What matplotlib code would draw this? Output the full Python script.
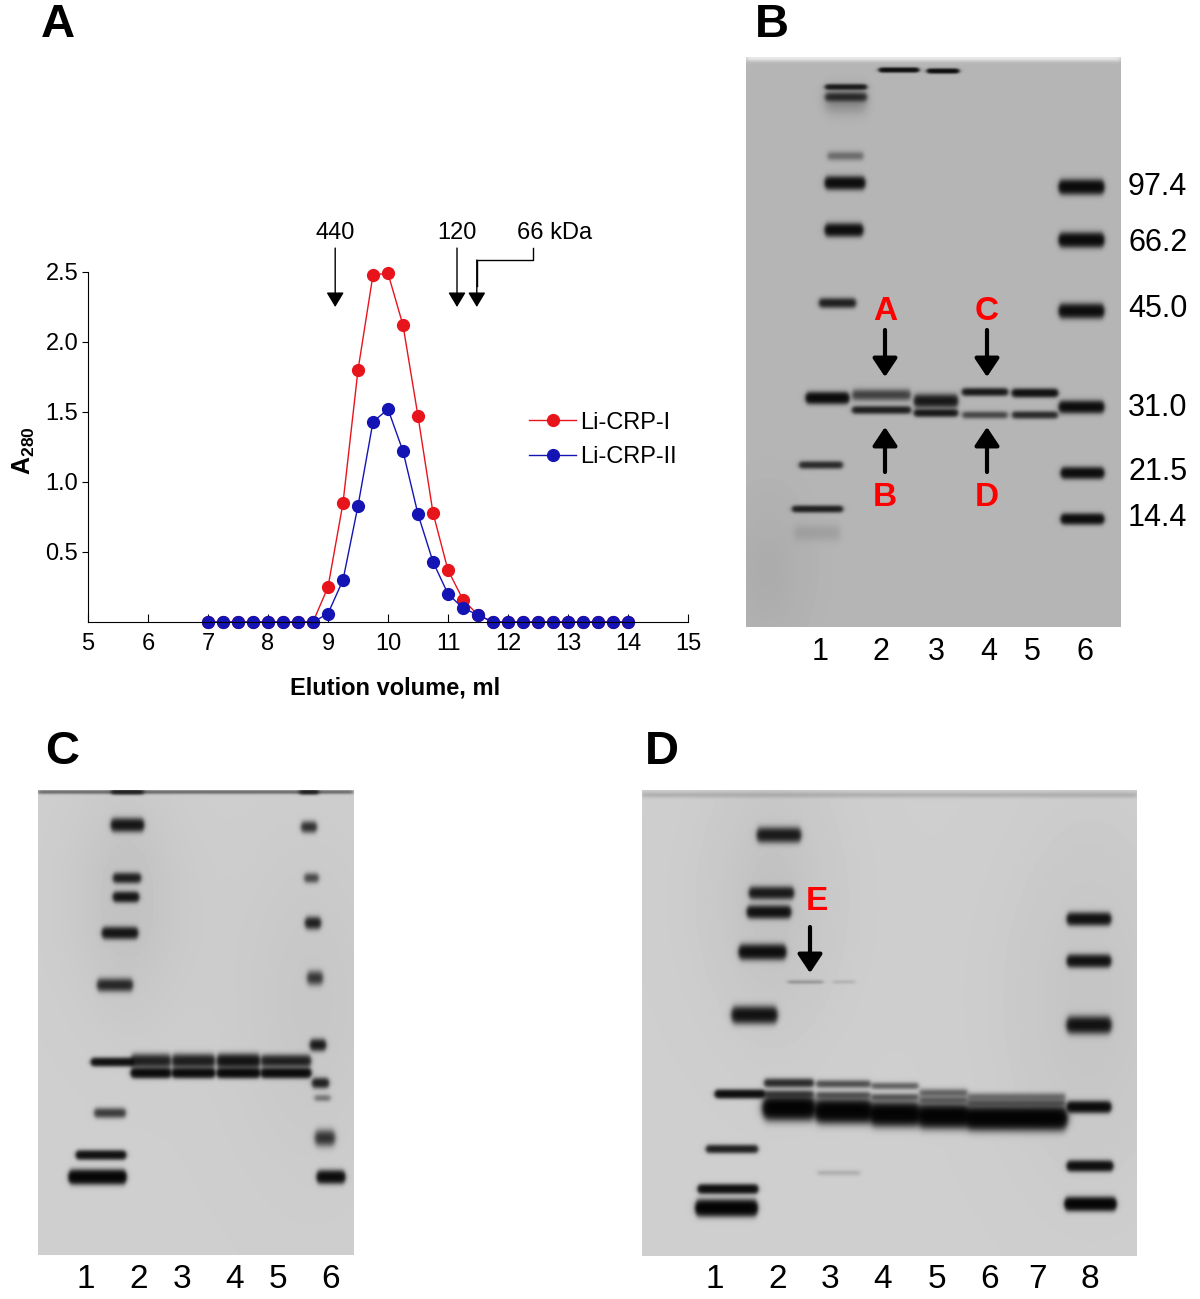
import numpy as np
import matplotlib.pyplot as plt

plt.rcParams['font.family'] = ['Liberation Sans', 'DejaVu Sans']
plt.rcParams['mathtext.fontset'] = 'custom'
plt.rcParams['mathtext.rm'] = 'Liberation Sans'
plt.rcParams['mathtext.bf'] = 'Liberation Sans:bold'

W, H = 1200, 1299

# ── panel A: gel filtration profile ──────────────────────────────────────────
elution_ml = [7.0, 7.25, 7.5, 7.75, 8.0, 8.25, 8.5, 8.75,
              9.0, 9.25, 9.5, 9.75, 10.0, 10.25, 10.5, 10.75, 11.0, 11.25, 11.5,
              11.75, 12.0, 12.25, 12.5, 12.75, 13.0, 13.25, 13.5, 13.75, 14.0]
li_crp_1 = [0, 0, 0, 0, 0, 0, 0, 0,
            0.25, 0.85, 1.80, 2.48, 2.49, 2.12, 1.47, 0.78, 0.37, 0.16, 0.05,
            0, 0, 0, 0, 0, 0, 0, 0, 0, 0]
li_crp_2 = [0, 0, 0, 0, 0, 0, 0, 0,
            0.06, 0.30, 0.83, 1.43, 1.52, 1.22, 0.77, 0.43, 0.20, 0.10, 0.05,
            0, 0, 0, 0, 0, 0, 0, 0, 0, 0]
standard_labels = ["440", "120", "66 kDa"]
standard_ml = [9.12, 11.15, 11.48]

# ── gel bands: (left, right, y, thickness, strength) in picture pixels ────────
gel_b_bands = [
    (746, 1121, 58, 2.5, -0.25),
    (746, 790, 570, 50, 0.08),
    (880, 918, 70, 1.5, 2.5), (928, 958, 71, 1.5, 2.5),
    (826, 866, 100, 9, 0.30), (826, 866, 87, 1.8, 1.8), (826, 866, 97, 2.8, 1.2),
    (828, 863, 156, 3.0, 0.5), (826, 864, 183, 3.8, 2.6), (826, 862, 230, 3.8, 2.6),
    (820, 855, 303, 3.0, 1.7),
    (807, 848, 398, 3.4, 2.8), (800, 842, 465, 2.4, 1.4), (793, 842, 509, 2.2, 1.7),
    (795, 840, 533, 6, 0.12),
    (853, 910, 395, 3.6, 1.0), (853, 910, 410, 2.4, 1.7),
    (915, 957, 401, 4.0, 2.0), (915, 957, 413, 2.4, 1.9),
    (963, 1007, 392, 2.4, 1.9), (963, 1007, 415, 2.4, 0.9),
    (1013, 1057, 393, 2.6, 2.3), (1013, 1057, 415, 2.4, 1.4),
    (1060, 1103, 187, 4.2, 2.8), (1060, 1103, 240, 4.2, 2.8), (1060, 1103, 311, 4.2, 2.6),
    (1060, 1103, 407, 3.6, 2.6), (1062, 1103, 473, 3.4, 2.6), (1062, 1103, 519, 3.2, 2.6),
]
gel_b_lanes = ["1", "2", "3", "4", "5", "6"]
gel_b_lane_x = [820, 881, 936, 989, 1032, 1085]
gel_b_mw = ["97.4", "66.2", "45.0", "31.0", "21.5", "14.4"]
gel_b_mw_y = [187, 243, 309, 408, 472, 518]
gel_b_marks = ["A", "B", "C", "D"]
gel_b_mark_x = [885, 885, 987, 987]
gel_b_mark_up = [False, True, False, True]

gel_c_bands = [
    (38, 353, 792, 1.4, 0.6), (112, 143, 792, 1.8, 1.2), (300, 318, 792, 1.8, 1.2),
    (110, 143, 900, 80, 0.15),
    (112, 143, 825, 4.0, 2.2), (114, 140, 878, 3.2, 1.8), (114, 138, 897, 3.2, 2.2),
    (103, 137, 933, 3.6, 2.2), (98, 132, 985, 4.0, 1.6),
    (92, 133, 1062, 2.6, 2.4), (95, 125, 1113, 3.2, 1.2), (77, 125, 1155, 2.8, 2.4),
    (70, 125, 1177, 4.0, 3.5),
    (132, 170, 1061, 4.2, 1.8), (132, 170, 1073, 3.0, 2.8),
    (173, 214, 1061, 4.2, 1.9), (173, 214, 1073, 3.0, 2.8),
    (218, 259, 1061, 4.2, 2.3), (218, 259, 1073, 3.0, 2.9),
    (262, 310, 1061, 3.8, 1.8), (262, 310, 1073, 3.0, 2.8),
    (302, 322, 1000, 120, 0.12),
    (302, 316, 827, 3.6, 1.4), (305, 318, 878, 3.2, 1.0), (306, 320, 923, 3.8, 1.8),
    (308, 322, 978, 4.4, 1.3), (311, 325, 1045, 3.6, 2.0), (313, 328, 1083, 3.2, 1.8),
    (315, 330, 1098, 2.4, 0.5), (316, 334, 1138, 5.0, 1.4), (318, 344, 1177, 3.8, 2.8),
]
gel_c_lanes = ["1", "2", "3", "4", "5", "6"]
gel_c_lane_x = [86, 139, 182, 235, 278, 331]

gel_d_bands = [
    (642, 1137, 795, 2, 0.15),
    (745, 800, 900, 90, 0.12),
    (758, 800, 835, 4.5, 2.0), (750, 793, 893, 3.8, 2.0), (748, 790, 912, 3.8, 2.4),
    (740, 785, 952, 4.4, 2.6), (733, 776, 1015, 5.0, 2.4),
    (716, 764, 1094, 2.6, 2.6), (707, 757, 1149, 2.6, 1.8), (699, 757, 1189, 2.8, 2.6),
    (697, 756, 1208, 4.5, 3.8),
    (788, 823, 982, 1.5, 0.25), (833, 855, 982, 1.5, 0.12), (818, 860, 1173, 2.0, 0.15),
    (765, 813, 1083, 2.8, 1.5), (765, 813, 1094, 2.4, 0.9), (765, 813, 1108, 6.5, 4.0),
    (817, 870, 1084, 2.6, 0.9), (817, 870, 1095, 2.4, 0.7), (817, 870, 1111, 6.5, 4.0),
    (872, 918, 1086, 2.4, 0.7), (872, 918, 1097, 2.4, 0.7), (872, 918, 1114, 6.5, 4.0),
    (920, 967, 1093, 2.8, 0.7), (920, 967, 1100, 2.4, 0.6), (920, 967, 1116, 6.5, 4.0),
    (968, 1017, 1097, 2.8, 0.6), (968, 1017, 1103, 2.4, 0.6), (968, 1017, 1118, 6.5, 4.0),
    (1017, 1065, 1097, 2.8, 0.6), (1017, 1065, 1103, 2.4, 0.6), (1017, 1065, 1118, 6.5, 4.0),
    (1068, 1112, 1000, 120, 0.12),
    (1068, 1110, 919, 3.8, 2.4), (1068, 1110, 961, 3.8, 2.4), (1068, 1110, 1025, 5.0, 2.4),
    (1068, 1110, 1107, 3.4, 2.8), (1068, 1112, 1166, 3.2, 2.6), (1066, 1115, 1204, 3.8, 3.5),
]
gel_d_lanes = ["1", "2", "3", "4", "5", "6", "7", "8"]
gel_d_lane_x = [715, 778, 830, 883, 937, 990, 1037, 1090]

fig = plt.figure(figsize=(W / 100, H / 100), dpi=100)


def px_rect(x0, y0, x1, y1):
    return [x0 / W, 1 - y1 / H, (x1 - x0) / W, (y1 - y0) / H]


def draw_gel(x0, y0, x1, y1, bg, bands):
    ax = fig.add_axes(px_rect(x0, y0, x1, y1))
    X, Y = np.meshgrid(np.arange(x0, x1) + 0.5, np.arange(y0, y1) + 0.5)
    dark = np.zeros_like(X)
    for left, right, yc, th, k in bands:
        soft = max(2.5, 0.6 * th)
        across = 0.25 * (1 + np.tanh((X - left) / soft)) * (1 + np.tanh((right - X) / soft))
        dark += k * across * np.exp(-0.5 * ((Y - yc) / th) ** 2)
    img = np.clip(bg * np.exp(-dark), 0, 1)
    ax.imshow(img, cmap="gray", vmin=0, vmax=1, extent=(x0, x1, y1, y0),
              aspect="auto", interpolation="bilinear")
    ax.set_xlim(x0, x1)
    ax.set_ylim(y1, y0)
    ax.axis("off")
    return ax


def gel_arrow(ax, x, y_from, y_to):
    ax.annotate("", xy=(x, y_to), xytext=(x, y_from), annotation_clip=False,
                arrowprops=dict(arrowstyle="-|>,head_length=0.45,head_width=0.3",
                                color="black", lw=3, mutation_scale=25,
                                shrinkA=0, shrinkB=0))


# ── panel A ──────────────────────────────────────────────────────────────────
ax = fig.add_axes(px_rect(88, 272, 688, 622))
ax.plot(elution_ml, li_crp_1, "-o", color="#e8141c", ms=8.5, lw=1.0, label="Li-CRP-I",
        clip_on=False)
ax.plot(elution_ml, li_crp_2, "-o", color="#1414b4", ms=8.5, lw=1.0, label="Li-CRP-II",
        clip_on=False)
ax.set_xlim(5, 15)
ax.set_ylim(0, 2.5)
ax.set_xticks(range(5, 16))
ax.set_yticks([0.5, 1.0, 1.5, 2.0, 2.5])
ax.set_yticklabels(["0.5", "1.0", "1.5", "2.0", "2.5"])
ax.spines["top"].set_visible(False)
ax.spines["right"].set_visible(False)
ax.tick_params(axis="x", direction="in", length=6, width=0.8, pad=8, labelsize=17)
ax.tick_params(axis="y", direction="out", length=4, width=0.8, pad=3, labelsize=17)
ax.set_xlabel("Elution volume, ml", fontsize=17, fontweight="bold")
ax.xaxis.label.set_va("center")
ax.xaxis.set_label_coords(0.512, -0.189)
ax.set_ylabel(r"$\mathbf{A}_{\mathbf{280}}$", fontsize=18)
ax.yaxis.label.set_va("center")
ax.yaxis.set_label_coords(-0.107, 0.49)
ax.legend(loc="center left", bbox_to_anchor=(0.735, 0.52), frameon=False, fontsize=17,
          handlelength=2.0, handletextpad=0.15, labelspacing=0.55, borderpad=0,
          borderaxespad=0)

# molecular weight standards
label_y, tail_y, tip_y, elbow_y = 2.779, 2.671, 2.25, 2.586
for lab, ml in zip(standard_labels, standard_ml):
    if lab == "66 kDa":
        ax.text(12.78, label_y, lab, ha="center", va="center", fontsize=17)
        ax.plot([12.42, 12.42, ml, ml], [tail_y, elbow_y, elbow_y, 2.4],
                color="black", lw=1.0, clip_on=False)
        start = elbow_y
    else:
        ax.text(ml, label_y, lab, ha="center", va="center", fontsize=17)
        start = tail_y
    ax.annotate("", xy=(ml, tip_y), xytext=(ml, start), annotation_clip=False,
                arrowprops=dict(arrowstyle="-|>,head_length=0.5,head_width=0.3",
                                color="black", lw=1.0, mutation_scale=18,
                                shrinkA=0, shrinkB=0))

# ── panel B ──────────────────────────────────────────────────────────────────
axb = draw_gel(746, 57, 1121, 627, 0.71, gel_b_bands)
for lab, x in zip(gel_b_lanes, gel_b_lane_x):
    axb.text(x, 652, lab, ha="center", va="center", fontsize=22)
for lab, y in zip(gel_b_mw, gel_b_mw_y):
    axb.text(1128, y, lab, ha="left", va="center", fontsize=22)
for lab, x, up in zip(gel_b_marks, gel_b_mark_x, gel_b_mark_up):
    if up:
        axb.text(x, 497, lab, ha="center", va="center", fontsize=24,
                 fontweight="bold", color="#ff0000")
        gel_arrow(axb, x, 472, 427)
    else:
        axb.text(x, 312, lab, ha="center", va="center", fontsize=24,
                 fontweight="bold", color="#ff0000")
        gel_arrow(axb, x, 330, 377)

# ── panel C ──────────────────────────────────────────────────────────────────
axc = draw_gel(38, 790, 354, 1255, 0.81, gel_c_bands)
for lab, x in zip(gel_c_lanes, gel_c_lane_x):
    axc.text(x, 1280, lab, ha="center", va="center", fontsize=24)

# ── panel D ──────────────────────────────────────────────────────────────────
axd = draw_gel(642, 790, 1137, 1256, 0.81, gel_d_bands)
for lab, x in zip(gel_d_lanes, gel_d_lane_x):
    axd.text(x, 1280, lab, ha="center", va="center", fontsize=24)
axd.text(817, 902, "E", ha="center", va="center", fontsize=24, fontweight="bold",
         color="#ff0000")
gel_arrow(axd, 810, 927, 973)

# panel letters
for lab, x, y in [("A", 58, 25), ("B", 772, 25), ("C", 62, 752), ("D", 662, 752)]:
    fig.text(x / W, 1 - y / H, lab, ha="center", va="center", fontsize=34,
             fontweight="bold")

fig.savefig("out.png", dpi=100)
